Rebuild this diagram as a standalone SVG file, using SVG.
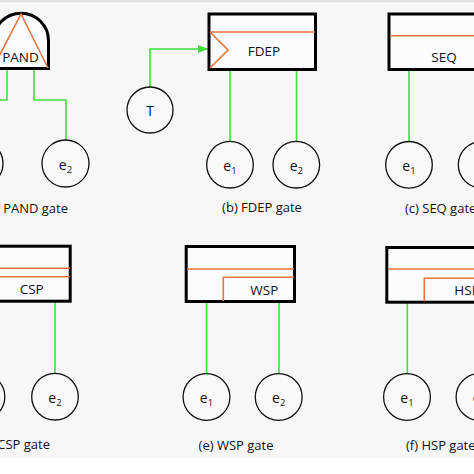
<svg xmlns="http://www.w3.org/2000/svg" width="474" height="474" viewBox="0 0 474 474">
<defs>
<style>
.bg{fill:#f7f7f7}
.gate{fill:#fbfcff;stroke:#000;stroke-width:3}
.or{fill:none;stroke:#e8733c;stroke-width:1.6}
.gr{fill:none;stroke:#3ee03e;stroke-width:1.6}
.ev{fill:#f9f9f9;stroke:#111;stroke-width:1.3}
.lbl{font-family:"Open Sans","Liberation Sans",sans-serif;font-size:13.5px;fill:#111}
.ev-t{font-family:"Open Sans","Liberation Sans",sans-serif;font-size:14px;fill:#111}
.cap{font-family:"Open Sans","Liberation Sans",sans-serif;font-size:13px;fill:#111}
</style>
<marker id="ah" viewBox="0 0 10 8" refX="10" refY="4" markerWidth="10" markerHeight="8" markerUnits="userSpaceOnUse" orient="auto">
<path d="M0,0 L10,4 L0,8 Z" fill="#3ee03e"/>
</marker>
</defs>
<rect class="bg" x="0" y="0" width="474" height="458"/>
<rect x="0" y="458" width="474" height="16" fill="#ffffff"/>
<rect x="0" y="0" width="474" height="2.3" fill="#e4e4e4"/>

<g id="connectors">
<polyline class="gr" points="7,69 7,100 -20,100 -20,140"/>
<polyline class="gr" points="34,69 34,100 66,100 66,140"/>
<polyline class="gr" points="150,87 150,49 208,49" marker-end="url(#ah)"/>
<line class="gr" x1="230" y1="70" x2="230" y2="141"/>
<line class="gr" x1="296.5" y1="70" x2="296.5" y2="141"/>
<line class="gr" x1="409" y1="70" x2="409" y2="141"/>
<line class="gr" x1="55" y1="302" x2="55" y2="373"/>
<line class="gr" x1="206.5" y1="302" x2="206.5" y2="374"/>
<line class="gr" x1="279" y1="302" x2="279" y2="374"/>
<line class="gr" x1="407.3" y1="303" x2="407.3" y2="374"/>
</g>

<g id="pand">
<path class="gate" d="M-6.5,68.5 L-6.5,40.7 A27.5,27.5 0 0 1 48.5,40.7 L48.5,68.5 Z"/>
<polyline class="or" points="-7,68 21,14 48,68"/>
<text class="lbl" x="20.5" y="62" text-anchor="middle">PAND</text>
</g>
<g id="pand-e1"><circle class="ev" cx="-20.5" cy="163.5" r="23.5"/></g>
<g id="pand-e2"><circle class="ev" cx="65.5" cy="163.5" r="23.5"/>
<text class="ev-t" x="65.5" y="169.5" text-anchor="middle">e<tspan font-size="9.5" dy="3">2</tspan></text></g>
<text class="cap" x="68" y="213" text-anchor="end">(a) PAND gate</text>

<g id="fdep">
<rect class="gate" x="209" y="14" width="106.5" height="55.5"/>
<line class="or" x1="210" y1="32" x2="315" y2="32"/>
<polyline class="or" points="210,32 228,50 210,68"/>
<text class="lbl" x="264" y="55.5" text-anchor="middle">FDEP</text>
</g>
<g id="fdep-t"><circle class="ev" cx="150" cy="110" r="23"/>
<text class="ev-t" x="150" y="116" text-anchor="middle" font-size="15px">T</text></g>
<g id="fdep-e1"><circle class="ev" cx="230" cy="164.7" r="23.3"/>
<text class="ev-t" x="230" y="170.5" text-anchor="middle">e<tspan font-size="9.5" dy="3">1</tspan></text></g>
<g id="fdep-e2"><circle class="ev" cx="296.3" cy="164.7" r="23.3"/>
<text class="ev-t" x="296.3" y="170.5" text-anchor="middle">e<tspan font-size="9.5" dy="3">2</tspan></text></g>
<text class="cap" x="262" y="212" text-anchor="middle">(b) FDEP gate</text>

<g id="seq">
<rect class="gate" x="389" y="14" width="106.5" height="55.5"/>
<line class="or" x1="390" y1="35.7" x2="495" y2="35.7"/>
<text class="lbl" x="444" y="62" text-anchor="middle">SEQ</text>
</g>
<g id="seq-e1"><circle class="ev" cx="409" cy="164.8" r="23.3"/>
<text class="ev-t" x="409" y="170.5" text-anchor="middle">e<tspan font-size="9.5" dy="3">1</tspan></text></g>
<g id="seq-e2"><circle class="ev" cx="481.6" cy="164.8" r="23.3"/>
<text class="ev-t" x="481.6" y="170.5" text-anchor="middle">e<tspan font-size="9.5" dy="3">2</tspan></text></g>
<text class="cap" x="405" y="213">(c) SEQ gate</text>

<g id="csp">
<rect class="gate" x="-37" y="246.2" width="107.2" height="55"/>
<line class="or" x1="-36" y1="268.3" x2="70" y2="268.3"/>
<line class="or" x1="-36" y1="276.7" x2="70" y2="276.7"/>
<text class="lbl" x="31.7" y="294" text-anchor="middle">CSP</text>
</g>
<g id="csp-e1"><circle class="ev" cx="-18.5" cy="396.7" r="23.3"/></g>
<g id="csp-e2"><circle class="ev" cx="55" cy="396.7" r="23.3"/>
<text class="ev-t" x="55" y="402.5" text-anchor="middle">e<tspan font-size="9.5" dy="3">2</tspan></text></g>
<text class="cap" x="50" y="449" text-anchor="end">(d) CSP gate</text>

<g id="wsp">
<rect class="gate" x="186.2" y="246.5" width="108.3" height="55"/>
<line class="or" x1="187" y1="269" x2="294" y2="269"/>
<polyline class="or" points="223.3,301 223.3,277.3 294,277.3"/>
<text class="lbl" x="264.3" y="295" text-anchor="middle">WSP</text>
</g>
<g id="wsp-e1"><circle class="ev" cx="206.5" cy="397" r="23.4"/>
<text class="ev-t" x="206.5" y="403" text-anchor="middle">e<tspan font-size="9.5" dy="3">1</tspan></text></g>
<g id="wsp-e2"><circle class="ev" cx="278.7" cy="397" r="23.4"/>
<text class="ev-t" x="278.7" y="403" text-anchor="middle">e<tspan font-size="9.5" dy="3">2</tspan></text></g>
<text class="cap" x="236" y="450" text-anchor="middle">(e) WSP gate</text>

<g id="hsp">
<rect class="gate" x="386.8" y="247.5" width="108" height="54.7"/>
<line class="or" x1="388" y1="269" x2="494" y2="269"/>
<polyline class="or" points="424.3,301.5 424.3,278.3 494,278.3"/>
<text class="lbl" x="454.3" y="295">HSP</text>
</g>
<g id="hsp-e1"><circle class="ev" cx="407" cy="397" r="23.4"/>
<text class="ev-t" x="407" y="403" text-anchor="middle">e<tspan font-size="9.5" dy="3">1</tspan></text></g>
<g id="hsp-e2"><circle class="ev" cx="479.5" cy="397" r="23.4"/>
<text class="ev-t" x="479.5" y="403" text-anchor="middle">e<tspan font-size="9.5" dy="3">2</tspan></text></g>
<text class="cap" x="406" y="450">(f) HSP gate</text>
</svg>
